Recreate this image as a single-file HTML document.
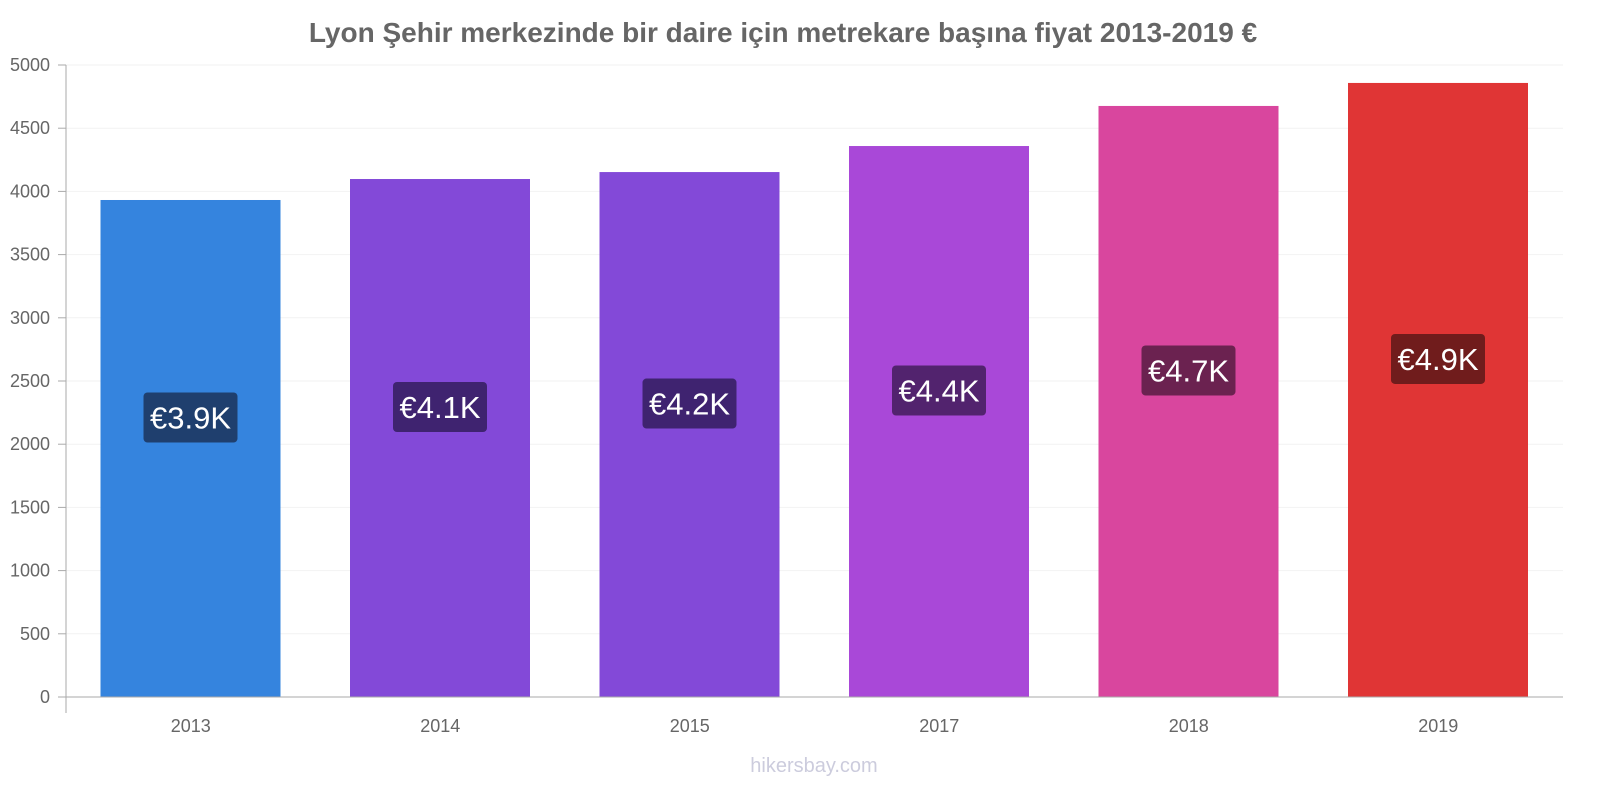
<!DOCTYPE html>
<html><head><meta charset="utf-8"><style>
html,body{margin:0;padding:0;background:#fff;font-family:"Liberation Sans",sans-serif;overflow:hidden;width:1600px;height:800px}
svg{display:block}
</style></head><body>
<svg id="chart" width="1600" height="800" xmlns="http://www.w3.org/2000/svg" font-family="Liberation Sans, sans-serif">
<text x="783" y="42" text-anchor="middle" font-size="28" font-weight="bold" fill="#666">Lyon Şehir merkezinde bir daire için metrekare başına fiyat 2013-2019 €</text>
<g id="grid"></g><g id="bars"></g><g id="axes"></g>
<text x="814" y="772" text-anchor="middle" font-size="20" fill="#ccd">hikersbay.com</text>
</svg>
<script>
const categories=["2013","2014","2015","2017","2018","2019"];
const values=[3932,4098,4153,4359,4676,4858];
const valueLabels=["€3.9K","€4.1K","€4.2K","€4.4K","€4.7K","€4.9K"];
const yTicks=[0,500,1000,1500,2000,2500,3000,3500,4000,4500,5000];
const colors=["#3584de","#8349d8","#8349d8","#a948d8","#d9469e","#e03535"];
const labelBg=["#1f3f6e","#3f2370","#3f2370","#52236e","#6b2250","#701c1c"];
const NS="http://www.w3.org/2000/svg";
const x0=66,x1=1563,y0=697,yTop=65,maxV=5000;
const y=v=>y0-(v/maxV)*(y0-yTop);
const band=(x1-x0)/categories.length;
const mk=(t,a,p)=>{const e=document.createElementNS(NS,t);for(const k in a)e.setAttribute(k,a[k]);p.appendChild(e);return e;};
const grid=document.getElementById('grid'),bars=document.getElementById('bars'),axes=document.getElementById('axes');
yTicks.forEach(t=>{
 const g=mk('line',{x1:x0,x2:x1,y1:y(t),y2:y(t),stroke:'#f2f2f2'},grid);
 
 
 const tk=mk('line',{x1:58,x2:x0,y1:y(t),y2:y(t),stroke:'#aaa'},axes);
 
 
 const l=mk('text',{x:50,y:y(t)+6,'text-anchor':'end','font-size':18,fill:'#666'},axes);
 l.textContent=t;
 
 
});
categories.forEach((c,i)=>{
 const bx=x0+band*i+34.5,w=180,top=y(values[i]);
 const r=mk('rect',{x:bx,y:top,width:w,height:y0-top,fill:colors[i]},bars);
 
 
 const cy=(top+y0)/2-31,cx=bx+w/2;
 const bg=mk('rect',{x:cx-47,y:cy-25,width:94,height:50,rx:4,fill:labelBg[i]},bars);
 
 
 const t=mk('text',{x:cx,y:cy+11,'text-anchor':'middle','font-size':31,fill:'#fff'},bars);
 t.textContent=valueLabels[i];
 
 
 const xl=mk('text',{x:x0+band*i+band/2,y:732,'text-anchor':'middle','font-size':18,fill:'#666'},axes);
 xl.textContent=c;
 
 
});
const ya=mk('line',{x1:x0,x2:x0,y1:yTop,y2:713,stroke:'#aaa'},axes);


const xa=mk('line',{x1:58,x2:x1,y1:y0,y2:y0,stroke:'#aaa'},axes);


</script>
</body></html>
